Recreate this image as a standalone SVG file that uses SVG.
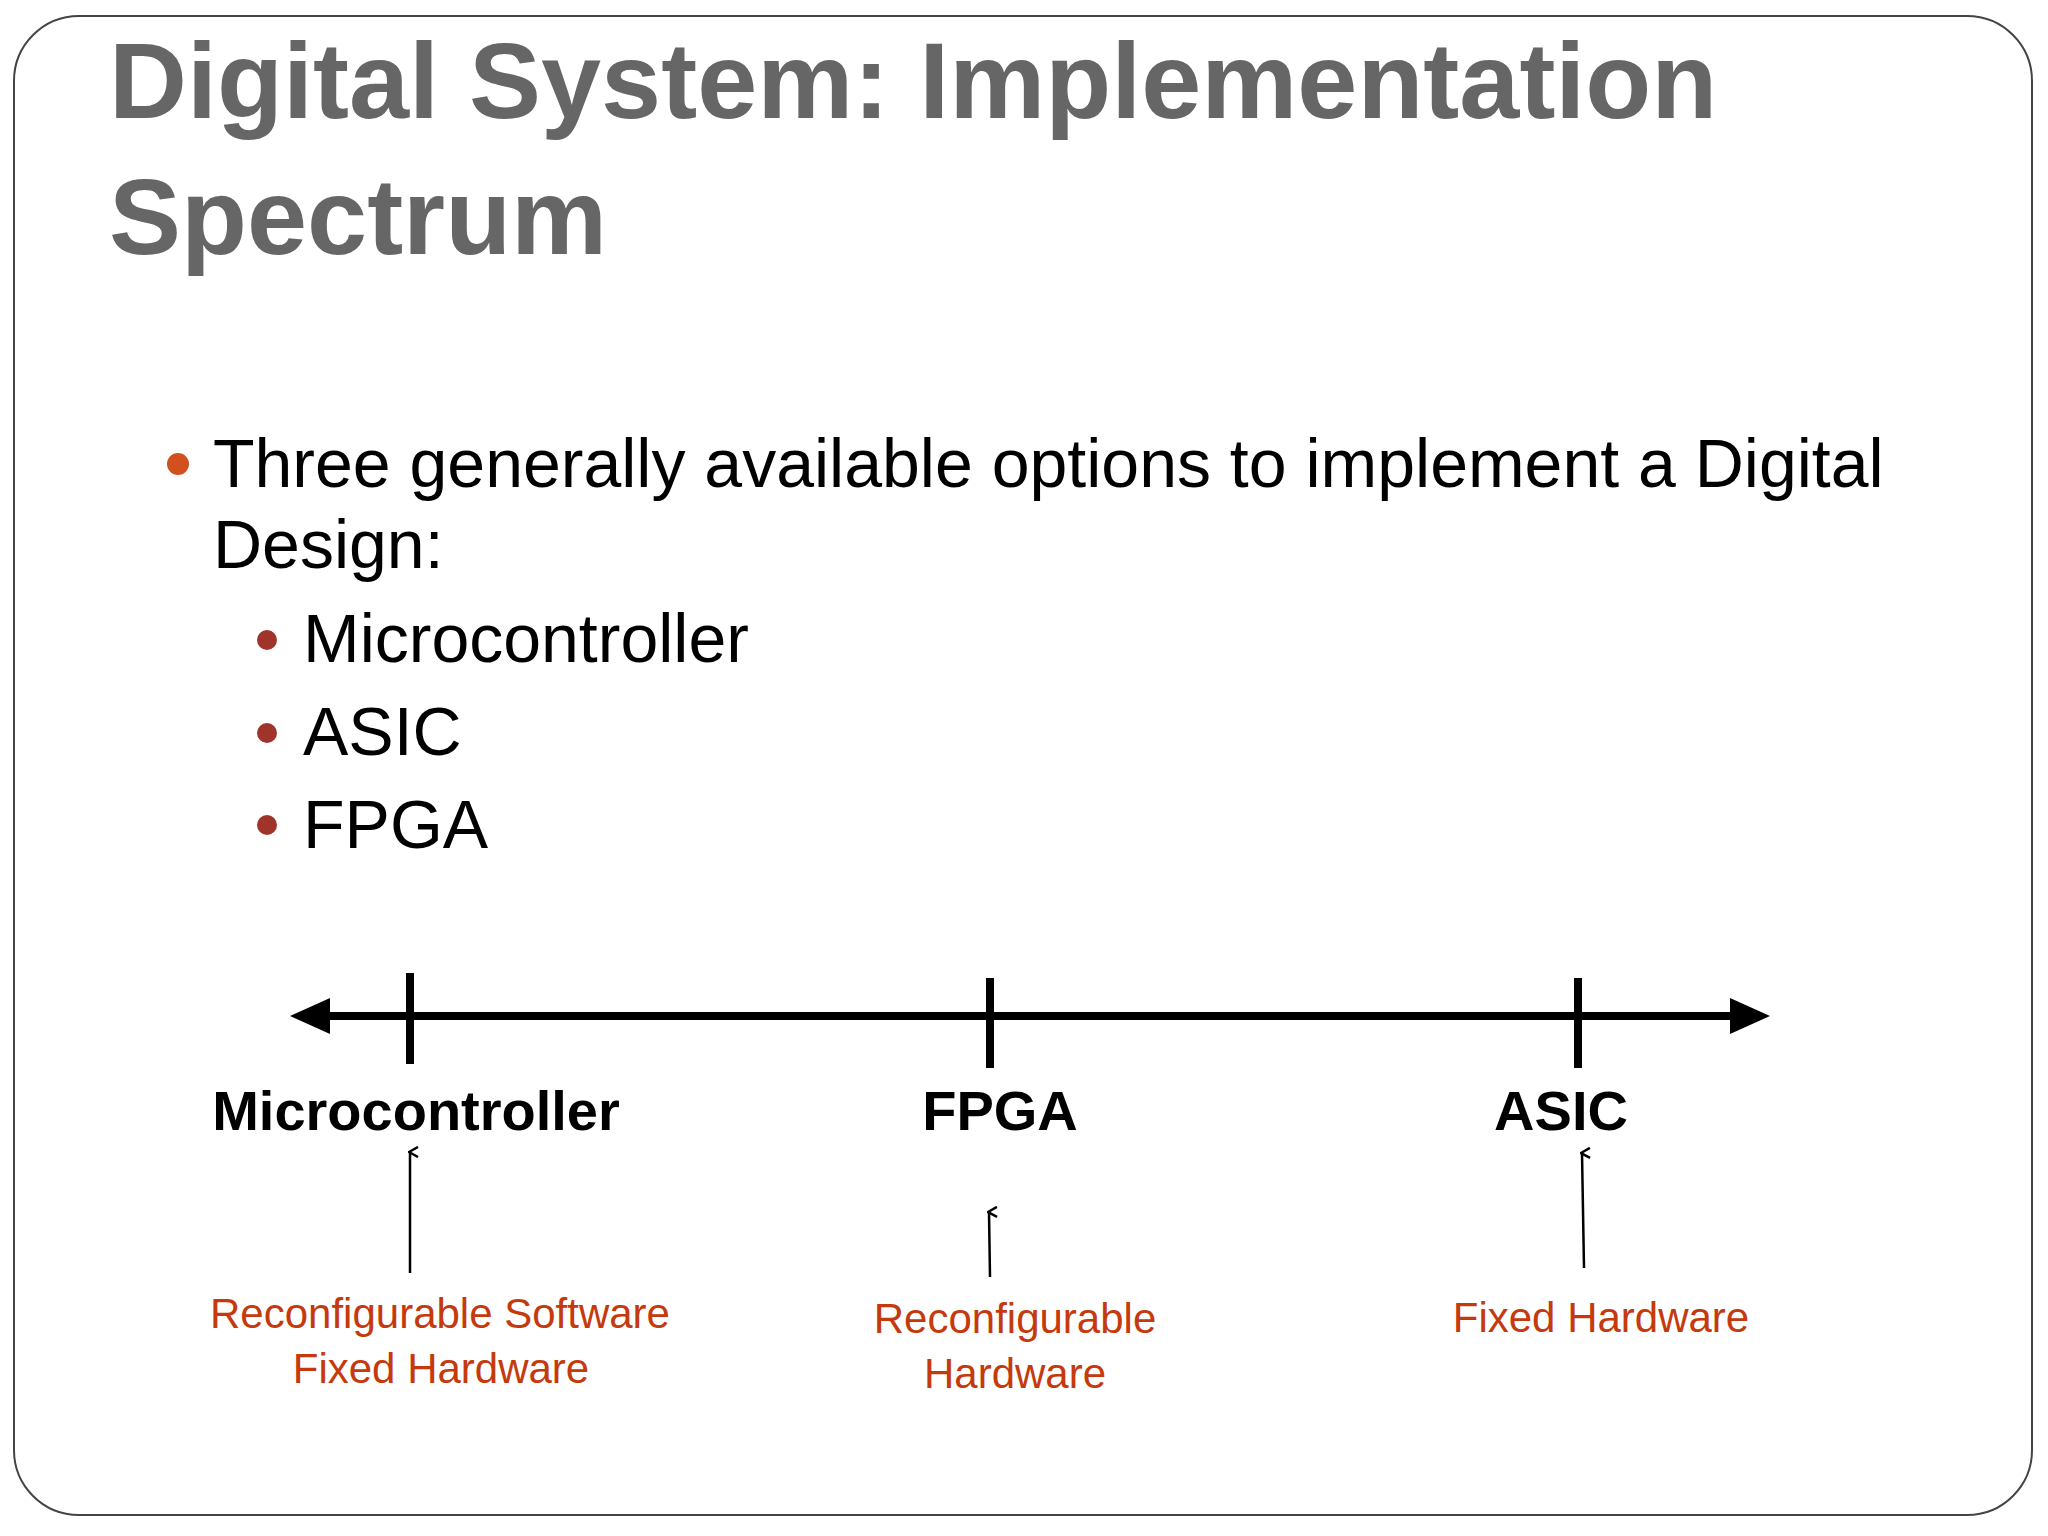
<svg xmlns="http://www.w3.org/2000/svg" width="2048" height="1536" viewBox="0 0 2048 1536">
<style>
.t{font-family:"Liberation Sans",Arial,sans-serif;font-weight:bold;fill:#666;font-size:108px}
.b{font-family:"Liberation Sans",Arial,sans-serif;fill:#000;font-size:68px}
.l{font-family:"Liberation Sans",Arial,sans-serif;font-weight:bold;fill:#000;font-size:56px;text-anchor:middle}
.r{font-family:"Liberation Sans",Arial,sans-serif;fill:#c53a0c;font-size:42px;text-anchor:middle}
.ax{stroke:#000;stroke-width:8;fill:none}
.ar{stroke:#000;stroke-width:2.5;fill:none}
</style>
<defs>
<marker id="op" markerWidth="12" markerHeight="12" refX="6" refY="2" orient="auto-start-reverse" markerUnits="userSpaceOnUse" viewBox="0 0 12 12"><path d="M1,10 L6,1 L11,10" stroke="#000" stroke-width="2.5" fill="none"/></marker>
</defs>
<rect x="0" y="0" width="2048" height="1536" fill="#fff"/>
<rect x="14" y="16" width="2018" height="1499" rx="65" fill="#fff" stroke="#444" stroke-width="2"/>
<g id="title">
<text class="t" x="109" y="118">Digital System: Implementation</text>
<text class="t" x="109" y="254">Spectrum</text>
</g>
<g id="bullets">
<circle cx="178" cy="464" r="11" fill="#d2501e"/>
<text class="b" x="213" y="487">Three generally available options to implement a Digital</text>
<text class="b" x="213" y="568">Design:</text>
<circle cx="267" cy="640" r="10" fill="#a0332a"/>
<text class="b" x="303" y="662">Microcontroller</text>
<circle cx="267" cy="733" r="10" fill="#a0332a"/>
<text class="b" x="303" y="755">ASIC</text>
<circle cx="267" cy="825" r="10" fill="#a0332a"/>
<text class="b" x="303" y="848">FPGA</text>
</g>
<g id="connectors">
<line class="ax" x1="320" y1="1016" x2="1740" y2="1016"/>
<polygon points="290,1016 330,998 330,1034" fill="#000"/>
<polygon points="1770,1016 1730,998 1730,1034" fill="#000"/>
<line class="ax" x1="410" y1="973" x2="410" y2="1064"/>
<line class="ax" x1="990" y1="978" x2="990" y2="1068"/>
<line class="ax" x1="1578" y1="978" x2="1578" y2="1068"/>
<line class="ar" x1="410" y1="1273" x2="410" y2="1152" marker-end="url(#op)"/>
<line class="ar" x1="990" y1="1277" x2="989" y2="1212" marker-end="url(#op)"/>
<line class="ar" x1="1584" y1="1268" x2="1582" y2="1153" marker-end="url(#op)"/>
</g>
<g id="micro">
<text class="l" x="416" y="1130">Microcontroller</text>
<text class="r" x="440" y="1328">Reconfigurable Software</text>
<text class="r" x="441" y="1383">Fixed Hardware</text>
</g>
<g id="fpga">
<text class="l" x="1000" y="1130">FPGA</text>
<text class="r" x="1015" y="1333">Reconfigurable</text>
<text class="r" x="1015" y="1388">Hardware</text>
</g>
<g id="asic">
<text class="l" x="1561" y="1130">ASIC</text>
<text class="r" x="1601" y="1332">Fixed Hardware</text>
</g>
</svg>
